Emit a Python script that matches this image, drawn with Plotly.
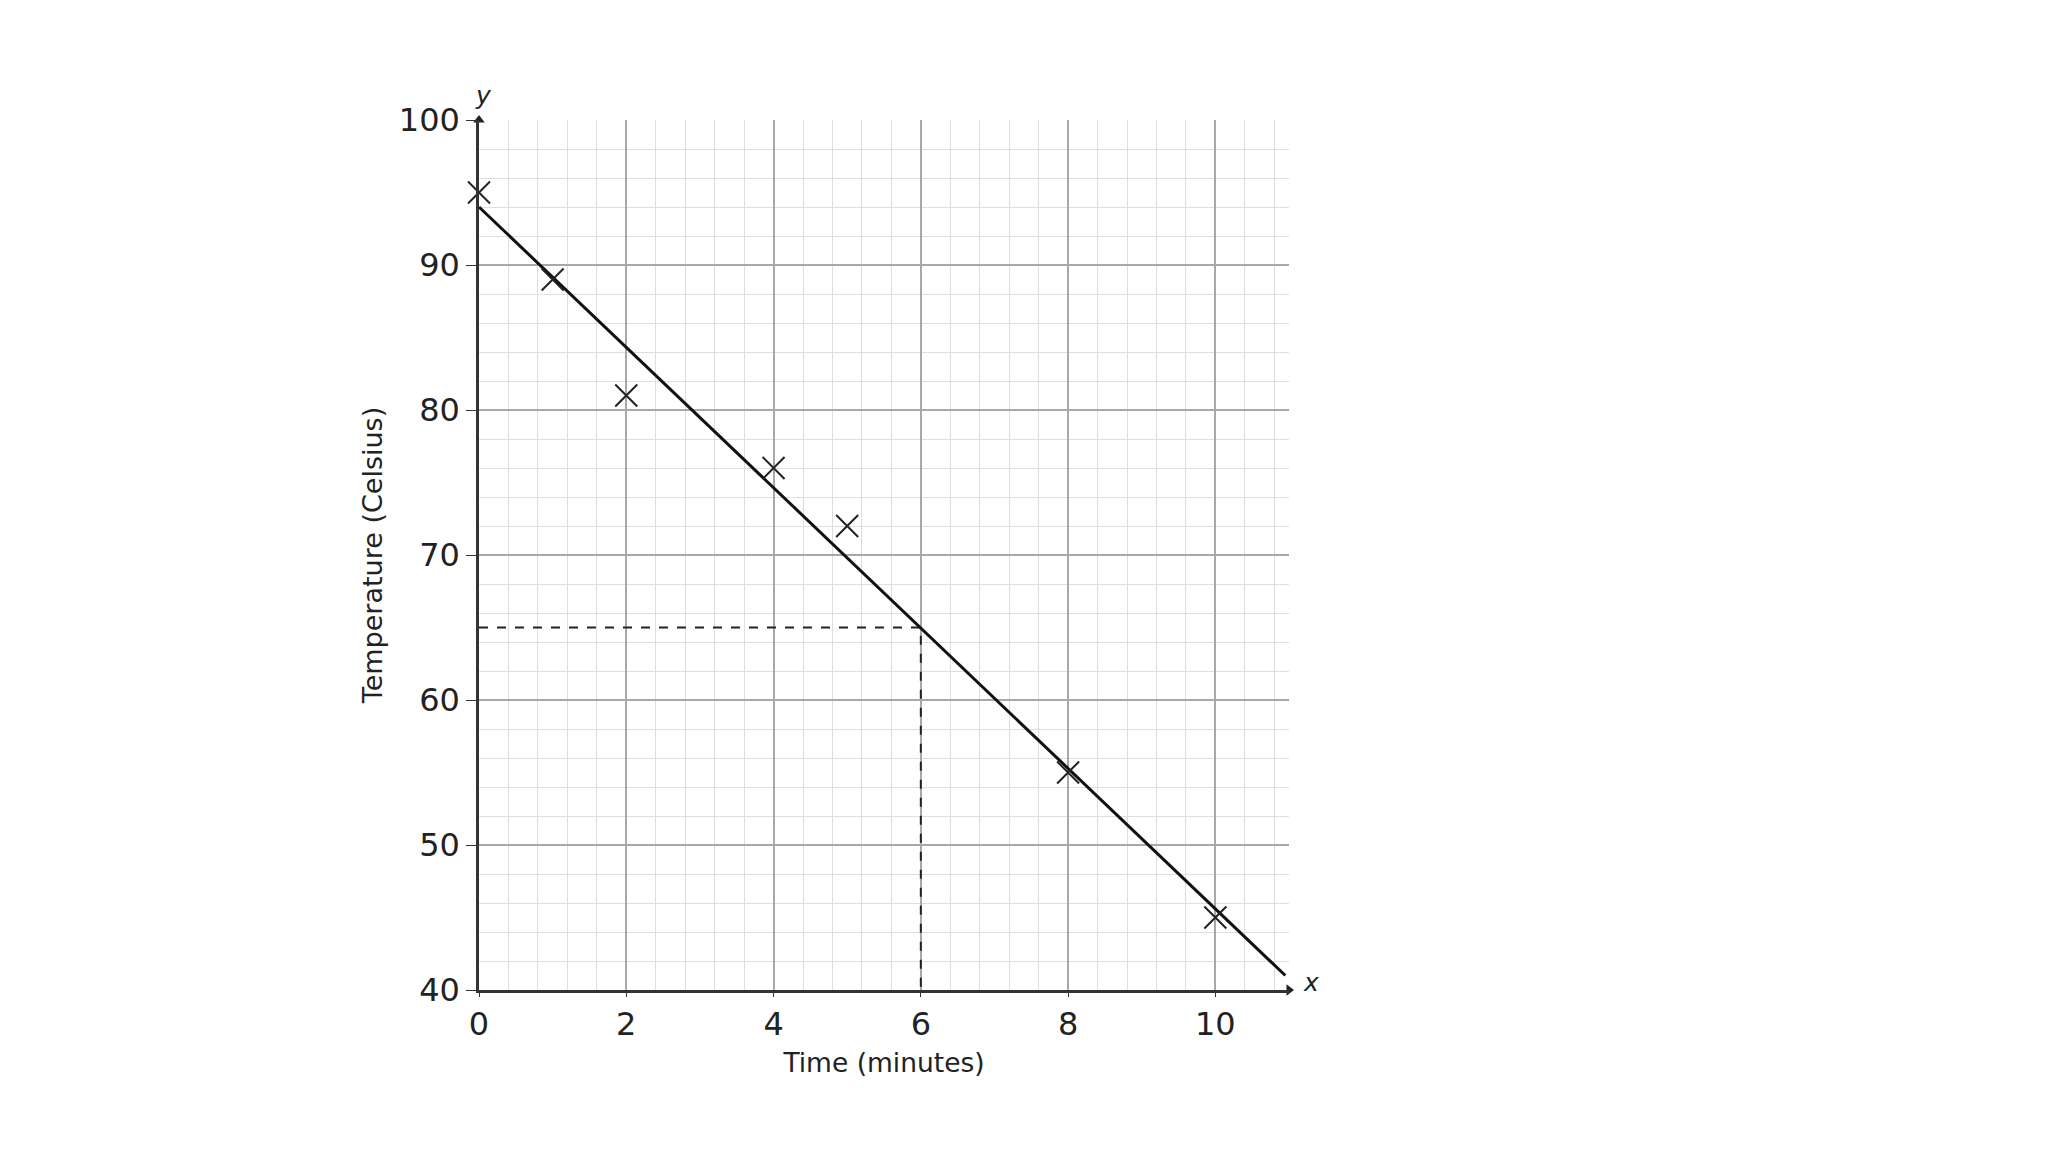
import plotly.graph_objects as go

# Data
time_min = [0, 1, 2, 4, 5, 8, 10]
temp_c = [95, 89, 81, 76, 72, 55, 45]
fit_x = [0, 10.95]
fit_y = [94.0, 41.0]
read_x = 6
read_y = 65
x_ticks = [0, 2, 4, 6, 8, 10]
y_ticks = [40, 50, 60, 70, 80, 90, 100]

FONT = "DejaVu Sans"
fig = go.Figure()

# dashed reading lines
fig.add_trace(go.Scatter(x=[0, read_x, read_x], y=[read_y, read_y, 40], mode="lines",
                         line=dict(color="#222", width=2, dash="dash"), hoverinfo="skip"))
# line of best fit
fig.add_trace(go.Scatter(x=fit_x, y=fit_y, mode="lines",
                         line=dict(color="#111", width=3), hoverinfo="skip"))
# data points
fig.add_trace(go.Scatter(x=time_min, y=temp_c, mode="markers", cliponaxis=False,
                         marker=dict(symbol="x-thin", size=22, line=dict(color="#222", width=2))))
# axis arrows
fig.add_trace(go.Scatter(x=[11], y=[40], mode="markers", cliponaxis=False, hoverinfo="skip",
                         marker=dict(symbol="triangle-right", size=10, color="#222")))
fig.add_trace(go.Scatter(x=[0], y=[100], mode="markers", cliponaxis=False, hoverinfo="skip",
                         marker=dict(symbol="triangle-up", size=10, color="#222")))

fig.update_layout(
    width=2048, height=1152, showlegend=False,
    paper_bgcolor="white", plot_bgcolor="white",
    margin=dict(l=471, r=767, t=112, b=170),
    font=dict(family=FONT, color="#222"),
    xaxis=dict(range=[0, 11], tickvals=x_ticks, showgrid=True, gridcolor="#a8a8a8", gridwidth=1.5,
               minor=dict(dtick=0.4, tick0=0, showgrid=True, gridcolor="#dedede", gridwidth=1),
               showline=True, linecolor="#333", linewidth=2.5, zeroline=False,
               ticks="outside", ticklen=4, tickcolor="#333", tickfont=dict(size=32),
               title=dict(text="Time (minutes)", font=dict(size=26.5), standoff=12)),
    yaxis=dict(range=[40, 100], tickvals=y_ticks, showgrid=True, gridcolor="#a8a8a8", gridwidth=1.5,
               minor=dict(dtick=2, tick0=40, showgrid=True, gridcolor="#dedede", gridwidth=1),
               showline=True, linecolor="#333", linewidth=2.5, zeroline=False,
               ticks="outside", ticklen=10, tickcolor="#333", tickfont=dict(size=32),
               title=dict(text="Temperature (Celsius)", font=dict(size=27), standoff=9)),
    annotations=[
        dict(x=0.0, y=100, xref="x", yref="y", text="<i>y</i>", showarrow=False,
             xanchor="left", yanchor="bottom", xshift=-6, yshift=8, font=dict(size=25, family=FONT)),
        dict(x=11, y=40, xref="x", yref="y", text="<i>x</i>", showarrow=False,
             xanchor="left", yanchor="middle", xshift=12, yshift=8, font=dict(size=25, family=FONT)),
    ],
)

fig.write_html("out.html")
